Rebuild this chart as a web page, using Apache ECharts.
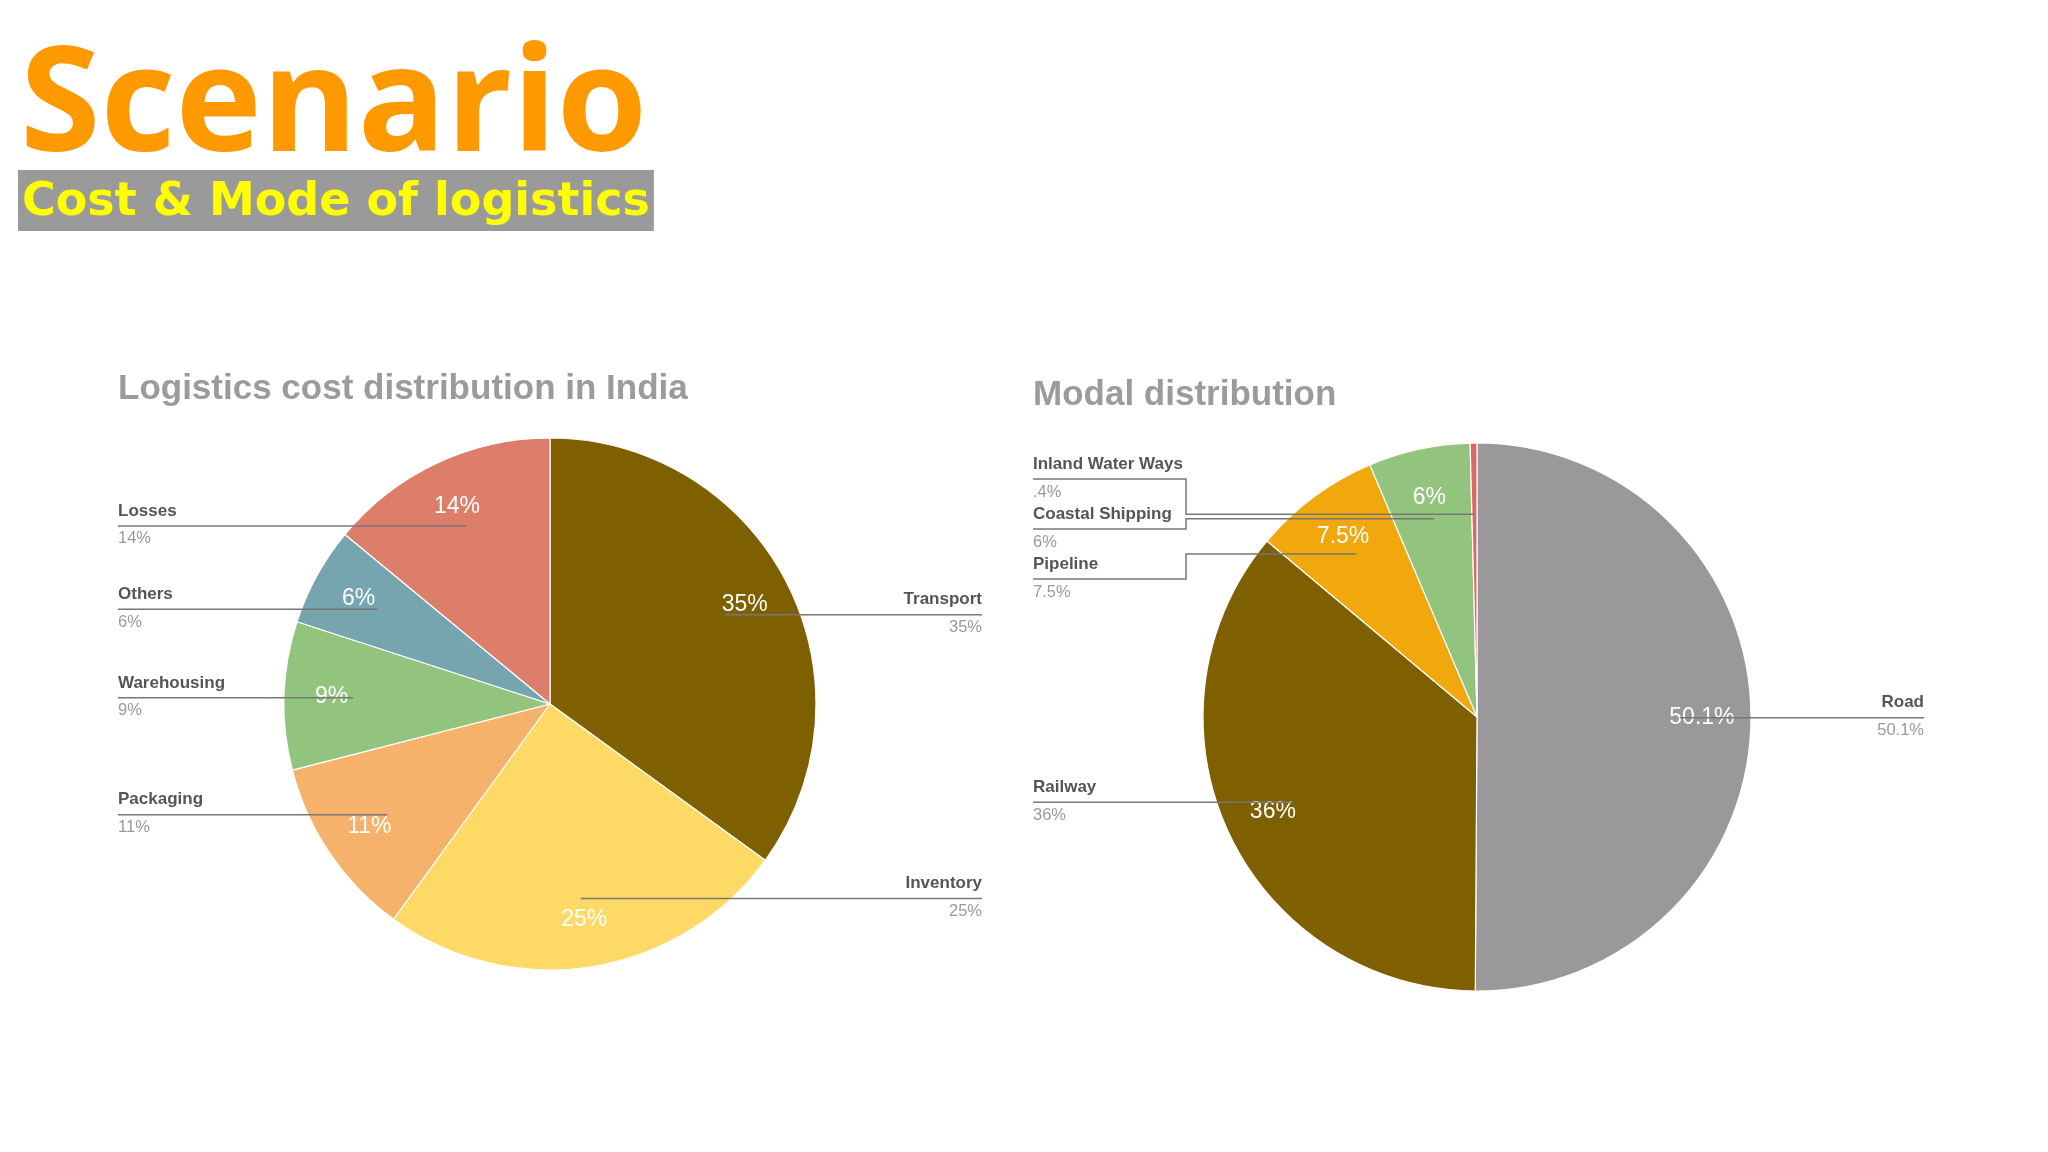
<!DOCTYPE html>
<html>
<head>
<meta charset="utf-8">
<script src="https://cdn.jsdelivr.net/npm/echarts@6/dist/echarts.min.js"></script>
<style>
html, body { margin: 0; padding: 0; background: #fff; }
#main { width: 2048px; height: 1152px; }
</style>
</head>
<body>
<div id="main"></div>
<script>
// Logistics cost distribution in India
var costNames = ['Transport', 'Inventory', 'Packaging', 'Warehousing', 'Others', 'Losses'];
var costValues = [35, 25, 11, 9, 6, 14];
var costColors = ['#7f6000', '#ffd966', '#f6b26b', '#93c47d', '#76a5af', '#dd7e6b'];

// Modal distribution
var modeNames = ['Road', 'Railway', 'Pipeline', 'Coastal Shipping', 'Inland Water Ways'];
var modeValues = [50.1, 36, 7.5, 6, 0.4];
var modeColors = ['#9a989a', '#7f6000', '#f0a80c', '#93c47d', '#e06666'];

var GAP = 50;      // min distance between stacked labels
var NAME_H = 30;   // height of the name row, line sits under it
var DOT = 0.74;    // where the leader line starts, share of radius

function pct(v) {
    return String(v).replace(/^0\./, '.') + '%';
}

// leader line start points + stacked label rows
function guides(values, cx, cy, r) {
    var total = values.reduce(function (a, b) { return a + b; }, 0);
    var acc = 0;
    var out = values.map(function (v) {
        var a = (acc + v / 2) / total * Math.PI * 2;
        acc += v;
        var x = cx + DOT * r * Math.sin(a);
        var y = cy - DOT * r * Math.cos(a);
        return { x: x, y: y, left: x < cx, lineY: y };
    });
    [true, false].forEach(function (side) {
        var items = out.filter(function (o) { return o.left === side; })
            .sort(function (a, b) { return a.y - b.y; });
        var cl = items.map(function (o) { return { items: [o], mean: o.y }; });
        var changed = true;
        while (changed) {
            changed = false;
            for (var i = 0; i < cl.length - 1; i++) {
                var a = cl[i], b = cl[i + 1];
                var aEnd = a.mean + (a.items.length - 1) * GAP / 2;
                var bStart = b.mean - (b.items.length - 1) * GAP / 2;
                if (bStart - aEnd < GAP) {
                    var all = a.items.concat(b.items);
                    var m = all.reduce(function (s, o) { return s + o.y; }, 0) / all.length;
                    cl.splice(i, 2, { items: all, mean: m });
                    changed = true;
                    break;
                }
            }
        }
        cl.forEach(function (c) {
            c.items.forEach(function (o, k) {
                o.lineY = c.mean + (k - (c.items.length - 1) / 2) * GAP;
            });
        });
    });
    return out;
}

function pieSeries(names, values, colors, cx, cy, r, leftX, rightX, elbowX) {
    var g = guides(values, cx, cy, r);
    var plain = names.map(function (n, i) { return { name: n, value: values[i] }; });
    return [
        // slices
        {
            type: 'pie',
            center: [cx, cy],
            radius: [0, r],
            startAngle: 90,
            z: 2,
            itemStyle: { borderColor: '#fff', borderWidth: 1.2 },
            label: { show: false },
            labelLine: { show: false },
            emphasis: { disabled: true },
            data: names.map(function (n, i) {
                return { name: n, value: values[i], itemStyle: { color: colors[i] } };
            })
        },
        // white percentages inside
        {
            type: 'pie',
            center: [cx, cy],
            radius: [r * 0.62, r],
            startAngle: 90,
            silent: true,
            z: 3,
            itemStyle: { color: 'rgba(0,0,0,0)' },
            label: {
                position: 'inside',
                color: '#fff',
                fontSize: 23,
                fontFamily: 'Liberation Sans',
                formatter: function (p) { return p.value < 1 ? '' : pct(p.value); }
            },
            labelLine: { show: false },
            data: plain
        },
        // names, values and leader lines
        {
            type: 'pie',
            center: [cx, cy],
            radius: [0, r],
            startAngle: 90,
            silent: true,
            z: 4,
            avoidLabelOverlap: false,
            itemStyle: { color: 'rgba(0,0,0,0)' },
            label: {
                position: 'outside',
                formatter: function (p) {
                    return '{n|' + p.name + '}\n{v|' + pct(p.value) + '}';
                },
                rich: {
                    n: { fontSize: 17, fontWeight: 'bold', color: '#555', lineHeight: NAME_H, fontFamily: 'Liberation Sans' },
                    v: { fontSize: 16.5, color: '#9a9a9a', lineHeight: 26, fontFamily: 'Liberation Sans' }
                }
            },
            labelLine: { show: true, length: 5, length2: 5, lineStyle: { color: '#777', width: 1.5 } },
            labelLayout: function (p) {
                var o = g[p.dataIndex];
                var edge = o.left ? leftX : rightX;
                var pts = [[o.x, o.y]];
                if (Math.abs(o.lineY - o.y) > 3 && elbowX != null) {
                    pts.push([elbowX, o.y]);
                    pts.push([elbowX, o.lineY]);
                }
                pts.push([edge, o.lineY]);
                return {
                    x: edge,
                    y: o.lineY - NAME_H,
                    align: o.left ? 'left' : 'right',
                    verticalAlign: 'top',
                    labelLinePoints: pts
                };
            },
            data: plain
        }
    ];
}

var myChart = echarts.init(document.getElementById('main'));

myChart.setOption({
    backgroundColor: '#fff',
    animation: false,
    title: [
        {
            text: 'Scenario',
            left: 20, top: 36, padding: 0,
            textStyle: { color: '#ff9900', fontSize: 146, fontWeight: 'bold', fontFamily: 'Open Sans' }
        },
        {
            text: 'Cost & Mode of logistics',
            left: 18, top: 170, padding: [10, 4, 5, 4],
            backgroundColor: '#9a9a9a',
            textStyle: { color: '#ffff00', fontSize: 46, fontWeight: 'bold', fontFamily: 'DejaVu Sans' }
        },
        {
            text: 'Logistics cost distribution in India',
            left: 118, top: 372, padding: 0,
            textStyle: { color: '#9b9b9b', fontSize: 35, fontWeight: 'bold', fontFamily: 'Liberation Sans' }
        },
        {
            text: 'Modal distribution',
            left: 1033, top: 378, padding: 0,
            textStyle: { color: '#9b9b9b', fontSize: 35, fontWeight: 'bold', fontFamily: 'Liberation Sans' }
        }
    ],
    series: []
        .concat(pieSeries(costNames, costValues, costColors, 550, 704, 266, 118, 982, null))
        .concat(pieSeries(modeNames, modeValues, modeColors, 1477, 717, 274, 1033, 1924, 1186))
});
</script>
</body>
</html>
